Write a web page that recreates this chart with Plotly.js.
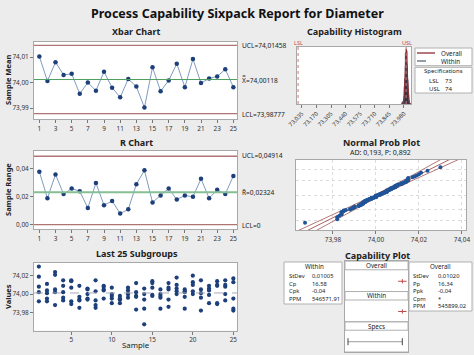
<!DOCTYPE html>
<html><head><meta charset="utf-8">
<script src="https://cdn.plot.ly/plotly-3.0.1.min.js"></script>
<style>html,body{margin:0;padding:0;background:#ececec;} #chart{width:474px;height:355px;}</style>
</head><body><div id="chart"></div>
<script>
// ---------------- DATA ----------------
const sampleNo = [1,2,3,4,5,6,7,8,9,10,11,12,13,14,15,16,17,18,19,20,21,22,23,24,25];
const m1 = [74.030,73.995,73.988,74.002,73.992,74.009,73.995,73.985,74.008,73.998,73.994,74.004,73.983,74.006,74.012,74.000,73.994,74.006,73.984,74.000,73.982,74.004,74.010,74.015,73.982];
const m2 = [74.002,73.992,74.024,73.996,74.007,73.994,74.006,74.003,73.995,74.000,73.998,74.000,74.002,73.967,74.014,73.984,74.012,74.010,74.002,74.010,74.001,73.999,73.989,74.008,73.984];
const m3 = [74.019,74.001,74.021,73.993,74.015,73.997,73.994,73.993,74.009,73.990,73.994,74.007,73.998,73.994,73.998,74.005,73.986,74.018,74.003,74.013,74.015,73.990,73.990,73.993,73.995];
const m4 = [73.992,74.011,74.005,74.015,73.989,73.985,74.000,74.015,74.005,74.007,73.995,74.000,73.997,74.000,73.999,73.998,74.005,74.003,74.005,74.020,74.005,74.006,74.009,74.000,74.017];
const m5 = [74.008,74.004,74.002,74.009,74.014,73.993,74.005,73.988,74.004,73.995,73.990,73.996,74.012,73.984,74.007,73.996,74.007,74.000,73.997,74.003,73.996,74.009,74.014,74.010,74.013];
const xbar = [74.0102,74.0006,74.0080,74.0030,74.0034,73.9956,74.0000,73.9968,74.0042,73.9980,73.9942,74.0014,73.9984,73.9902,74.0060,73.9966,74.0008,74.0074,73.9982,74.0092,73.9998,74.0016,74.0024,74.0052,73.9982];
const rng = [0.038,0.019,0.036,0.022,0.026,0.024,0.012,0.030,0.014,0.017,0.008,0.011,0.029,0.039,0.016,0.021,0.026,0.018,0.021,0.020,0.033,0.019,0.025,0.022,0.035];
const xbarUCL = 74.01458, xbarCL = 74.00118, xbarLCL = 73.98777;
const rUCL = 0.04914, rCL = 0.02324, rLCL = 0;
const LSL = 73, USL = 74;
const sdWithin = 0.01005, sdOverall = 0.01020;
const xbarTicks = [1,3,5,7,9,11,13,15,17,19,21,23,25];
const subTicks = [5,10,15,20,25];
const histTicks = [73.035,73.170,73.305,73.440,73.575,73.710,73.845,73.980];
const nppTicks = [73.98,74.00,74.02,74.04];
const nppGridPct = [0.01,0.10,0.50,0.90,0.99];
const capRows = ['Specs','Within','Overall'];
const withinLabels = ['StDev','Cp','Cpk','PPM'];
const withinValues = ['0,01005','16,58','-0,04','546571,91'];
const overallLabels = ['StDev','Pp','Ppk','Cpm','PPM'];
const overallValues = ['0,01020','16,34','-0,04','*','545899,02'];

// ---------------- HELPERS ----------------
const W = 474, H = 355;
const FONT = 'Noto Sans, Open Sans, sans-serif';
const px = x => x / W;
const py = y => 1 - y / H;
function invNorm(p){
  const a=[-3.969683028665376e+01,2.209460984245205e+02,-2.759285104469687e+02,1.383577518672690e+02,-3.066479806614716e+01,2.506628277459239e+00];
  const b=[-5.447609879822406e+01,1.615858368580409e+02,-1.556989798598866e+02,6.680131188771972e+01,-1.328068155288572e+01];
  const c=[-7.784894002430293e-03,-3.223964580411365e-01,-2.400758277161838e+00,-2.549732539343734e+00,4.374664141464968e+00,2.938163982698783e+00];
  const d=[7.784695709041462e-03,3.224671290700398e-01,2.445134137142996e+00,3.754408661907416e+00];
  const pl=0.02425;
  let q,r;
  if(p<pl){q=Math.sqrt(-2*Math.log(p));return (((((c[0]*q+c[1])*q+c[2])*q+c[3])*q+c[4])*q+c[5])/((((d[0]*q+d[1])*q+d[2])*q+d[3])*q+1);}
  if(p>1-pl){q=Math.sqrt(-2*Math.log(1-p));return -(((((c[0]*q+c[1])*q+c[2])*q+c[3])*q+c[4])*q+c[5])/((((d[0]*q+d[1])*q+d[2])*q+d[3])*q+1);}
  q=p-0.5;r=q*q;
  return (((((a[0]*r+a[1])*r+a[2])*r+a[3])*r+a[4])*r+a[5])*q/(((((b[0]*r+b[1])*r+b[2])*r+b[3])*r+b[4])*r+1);
}
const allX = [], allVals = [];
[m1,m2,m3,m4,m5].forEach(col => col.forEach((v,i) => { allX.push(sampleNo[i]); allVals.push(v); }));
const n = allVals.length;
const sorted = allVals.slice().sort((a,b)=>a-b);
const zScores = sorted.map((v,i)=>invNorm((i+1-0.3)/(n+0.4)));
const mean = allVals.reduce((s,v)=>s+v,0)/n;

function pdfCurve(mu, sd){
  const xs=[], ys=[];
  for(let k=-45;k<=45;k++){const x=mu+k*sd/10; xs.push(x); ys.push(Math.exp(-0.5*Math.pow((x-mu)/sd,2))/(sd*Math.sqrt(2*Math.PI)));}
  return {xs, ys};
}
const ov = pdfCurve(mean, sdOverall), wi = pdfCurve(mean, sdWithin);
const zLine = [], fitX = [], loX = [], hiX = [];
for(let k=-34;k<=34;k++){
  const z=k/10; zLine.push(z);
  fitX.push(mean+z*sdOverall);
  const se = sdOverall*Math.sqrt(1/n + z*z/(2*(n-1)));
  loX.push(mean+z*sdOverall-1.8*se); hiX.push(mean+z*sdOverall+1.8*se);
}

// ---------------- TRACES ----------------
const navy = '#1d3f7a', lineBlue = '#7f9cc2', limRed = '#b07474', cGreen = '#4f9e60', capRed = '#c04848';
const traces = [
  {type:'scatter', x:sampleNo, y:xbar, mode:'lines+markers', xaxis:'x', yaxis:'y',
   line:{color:lineBlue,width:1}, marker:{color:navy,size:4.5}},
  {type:'scatter', x:sampleNo, y:rng, mode:'lines+markers', xaxis:'x2', yaxis:'y2',
   line:{color:lineBlue,width:1}, marker:{color:navy,size:4.5}},
  {type:'scatter', x:allX, y:allVals, mode:'markers', xaxis:'x3', yaxis:'y3',
   marker:{color:navy,size:4.2}},
  {type:'histogram', x:allVals, xaxis:'x4', yaxis:'y4', histnorm:'probability density',
   xbins:{start:73.9625,end:74.0375,size:0.005}, marker:{color:'#55556a',line:{color:'#333344',width:0.6}}},
  {type:'scatter', x:wi.xs, y:wi.ys, mode:'lines', xaxis:'x4', yaxis:'y4', line:{color:'#4d5e70',width:1,dash:'dash'}},
  {type:'scatter', x:ov.xs, y:ov.ys, mode:'lines', xaxis:'x4', yaxis:'y4', line:{color:'#8b2f35',width:1.1}},
  {type:'scatter', x:loX, y:zLine, mode:'lines', xaxis:'x5', yaxis:'y5', line:{color:'#b06868',width:0.9}},
  {type:'scatter', x:hiX, y:zLine, mode:'lines', xaxis:'x5', yaxis:'y5', line:{color:'#b06868',width:0.9}},
  {type:'scatter', x:fitX, y:zLine, mode:'lines', xaxis:'x5', yaxis:'y5', line:{color:'#a05050',width:0.9}},
  {type:'scatter', x:sorted, y:zScores, mode:'markers', xaxis:'x5', yaxis:'y5', marker:{color:'#1f5598',size:4}},
  {type:'scatter', x:[LSL,USL], y:[0,0], mode:'lines+markers', xaxis:'x6', yaxis:'y6',
   line:{color:'#9a9a9a',width:1}, marker:{symbol:'line-ns-open',size:5,color:'#444',line:{width:1,color:'#444'}}},
  {type:'scatter', x:[mean,mean], y:[1,2], mode:'markers', xaxis:'x6', yaxis:'y6',
   marker:{symbol:'line-ew-open',size:6,color:capRed,line:{width:1,color:capRed}}},
  {type:'scatter', x:[mean,mean], y:[1,2], mode:'markers', xaxis:'x6', yaxis:'y6',
   marker:{symbol:'line-ns-open',size:3,color:capRed,line:{width:1,color:capRed}}}
];

// ---------------- LAYOUT ----------------
const frame = {showline:true, mirror:true, linecolor:'#a8a8a8', linewidth:1, zeroline:false, showgrid:false,
  ticks:'outside', ticklen:3, tickcolor:'#777', tickfont:{size:6.4,color:'#333'}};
const ax = (o) => Object.assign({}, frame, o);
const xd = (a,b) => [px(a), px(b)];
const yd = (top,bot) => [py(bot), py(top)];

const shapes = [];
const annotations = [];
function hline(axis, y, color, width, dash){
  shapes.push({type:'line', xref:'x'+axis+' domain', yref:'y'+axis, x0:0, x1:1, y0:y, y1:y, line:{color, width, dash:dash||'solid'}});
}
function vline(axis, x, color, width, dash){
  shapes.push({type:'line', xref:'x'+axis, yref:'y'+axis+' domain', x0:x, x1:x, y0:0, y1:1, line:{color, width, dash:dash||'solid'}});
}
function rectP(x0,y0,x1,y1,fill,line){
  shapes.push({type:'rect', xref:'paper', yref:'paper', x0:px(x0), x1:px(x1), y0:py(y1), y1:py(y0), fillcolor:fill||'white', line:{color:line||'#b0b0b0',width:1}, layer:'below'});
}
function lineP(x0,y0,x1,y1,color,width,dash){
  shapes.push({type:'line', xref:'paper', yref:'paper', x0:px(x0), x1:px(x1), y0:py(y0), y1:py(y1), line:{color,width,dash:dash||'solid'}});
}
function ann(text,x,y,o){
  o=o||{};
  annotations.push({text, x:px(x), y:py(y), xref:'paper', yref:'paper', showarrow:false,
    xanchor:o.xa||'center', yanchor:o.ya||'middle', textangle:o.a||0, align:o.al||'center', borderpad:0,
    font:{size:o.s||7, color:o.c||'#222', family:FONT}});
}

// control chart lines
hline('', xbarUCL, limRed, 1.3); hline('', xbarLCL, limRed, 1.3); hline('', xbarCL, cGreen, 1);
hline('2', rUCL, limRed, 1.3); hline('2', rLCL, limRed, 1.3); hline('2', rCL, '#86bf94', 2);
hline('3', xbarCL, '#a8aab8', 1, 'dash');
// capability histogram spec lines
vline('4', LSL, '#cc7a7a', 1, 'dot'); vline('4', USL, '#cc7a7a', 1, 'dot');
// capability plot sections
capRows.forEach((r,k)=>{
  shapes.push({type:'rect', xref:'x6 domain', yref:'y6', x0:0, x1:1, y0:k+0.38, y1:k+0.66, fillcolor:'white', line:{color:'#b0b0b0',width:1}});
  shapes.push({type:'line', xref:'x6 domain', yref:'y6', x0:0, x1:1, y0:k-0.34, y1:k-0.34, line:{color:'#b0b0b0',width:1}});
  annotations.push({text:r, xref:'x6 domain', yref:'y6', x:0.5, y:k+0.52, showarrow:false, borderpad:0, font:{size:6.3,color:'#222',family:FONT}});
});

// legend / specs boxes of histogram
rectP(415,48,472,65.7); rectP(415,67.3,472,93);
lineP(417,53,435,53,'#8b2f35',1.3); ann('Overall',440,53,{xa:'left',s:6.3});
lineP(417,61,435,61,'#4d5e70',1.2,'dash'); ann('Within',440,61,{xa:'left',s:6.3});
ann('Specifications',443,71.5,{s:6});
ann('LSL<br>USL',434.5,84.6,{s:6,al:'left'}); ann('73<br>74',448,84.6,{s:6,al:'left'});
ann('LSL',298.5,43,{s:5.5,c:capRed}); ann('USL',406.5,43,{s:5.5,c:capRed});

// capability stat boxes
rectP(284,262,342,304);
ann('Within',314,266.5,{s:6.2});
ann(withinLabels.join('<br>'),287.5,271,{xa:'left',ya:'top',al:'left',s:5.8});
ann(withinValues.join('<br>'),311,271,{xa:'left',ya:'top',al:'left',s:5.8});
rectP(409,262,472,311);
ann('Overall',440,266.5,{s:6.2});
ann(overallLabels.join('<br>'),412,271,{xa:'left',ya:'top',al:'left',s:5.8});
ann(overallValues.join('<br>'),436.5,271,{xa:'left',ya:'top',al:'left',s:5.8});

// titles
ann('<b>Process Capability Sixpack Report for Diameter</b>',237,14,{s:12.5,c:'#111'});
ann('<b>Xbar Chart</b>',136.5,32,{s:9});
ann('<b>R Chart</b>',136.5,142,{s:9});
ann('<b>Last 25 Subgroups</b>',136.5,253,{s:9});
ann('<b>Capability Histogram</b>',354,32,{s:9});
ann('<b>Normal Prob Plot</b>',381,142,{s:9});
ann('AD: 0,193, P: 0,892',380,152,{s:7});
ann('<b>Capability Plot</b>',377,255,{s:9});
// axis titles
ann('<b>Sample Mean</b>',8,80,{a:-90,s:7.5});
ann('<b>Sample Range</b>',8,190,{a:-90,s:7.5});
ann('<b>Values</b>',8,296,{a:-90,s:7.5});
ann('Sample',135.5,344.5,{s:7.8});
// control limit labels
ann('UCL=74,01458',241,45.7,{xa:'left',s:6.6});
ann('X\u033F=74,00118',241,80,{xa:'left',s:6.6});
ann('LCL=73,98777',241,114.3,{xa:'left',s:6.6});
ann('UCL=0,04914',241,155.8,{xa:'left',s:6.6});
ann('R\u0304=0,02324',241,192.5,{xa:'left',s:6.6});
ann('LCL=0',241,225,{xa:'left',s:6.6});

const layout = {
  width:W, height:H, margin:{l:0,r:0,t:0,b:0}, paper_bgcolor:'#ececec', plot_bgcolor:'white',
  showlegend:false, separators:',.', font:{family:FONT, color:'#222'}, bargap:0,
  xaxis: ax({domain:xd(34,237), range:[0.34,25.45], tickvals:xbarTicks, anchor:'y'}),
  yaxis: ax({domain:yd(42,119), range:[73.9857,74.0159], tickvals:[73.99,74.00,74.01], tickformat:'.2f', anchor:'x'}),
  xaxis2: ax({domain:xd(34,237), range:[0.34,25.45], tickvals:xbarTicks, anchor:'y2'}),
  yaxis2: ax({domain:yd(151,229), range:[-0.0031,0.0529], tickvals:[0,0.02,0.04], tickformat:'.2f', anchor:'x2'}),
  xaxis3: ax({domain:xd(34,237), range:[0.4,25.45], tickvals:subTicks, anchor:'y3'}),
  yaxis3: ax({domain:yd(262.7,330.7), range:[73.96,74.0342], tickvals:[73.98,74.00,74.02], tickformat:'.2f', anchor:'x3'}),
  xaxis4: ax({domain:xd(297,411), range:[72.99,74.045], tickvals:histTicks, tickformat:'.3f', tickangle:-45, tickfont:{size:5.8,color:'#333'}, anchor:'y4'}),
  yaxis4: ax({domain:yd(47,104), range:[0,41], showticklabels:false, ticks:'', anchor:'x4'}),
  xaxis5: ax({domain:xd(296,466), range:[73.9628,74.0419], tickvals:nppTicks, tickformat:'.2f', showgrid:true, gridcolor:'#dcdcdc', griddash:'dot', anchor:'y5'}),
  yaxis5: ax({domain:yd(160,230), range:[-3.2,3.2], tickvals:nppGridPct.map(invNorm), showticklabels:false, ticks:'', showgrid:true, gridcolor:'#dcdcdc', griddash:'dot', anchor:'x5'}),
  xaxis6: ax({domain:xd(345,408), range:[72.9448,74.105], showticklabels:false, ticks:'', anchor:'y6'}),
  yaxis6: ax({domain:yd(261.3,352), range:[-0.34,2.66], showticklabels:false, ticks:'', anchor:'x6'}),
  shapes, annotations
};
Plotly.newPlot('chart', traces, layout, {staticPlot:true, displayModeBar:false});
</script></body></html>
